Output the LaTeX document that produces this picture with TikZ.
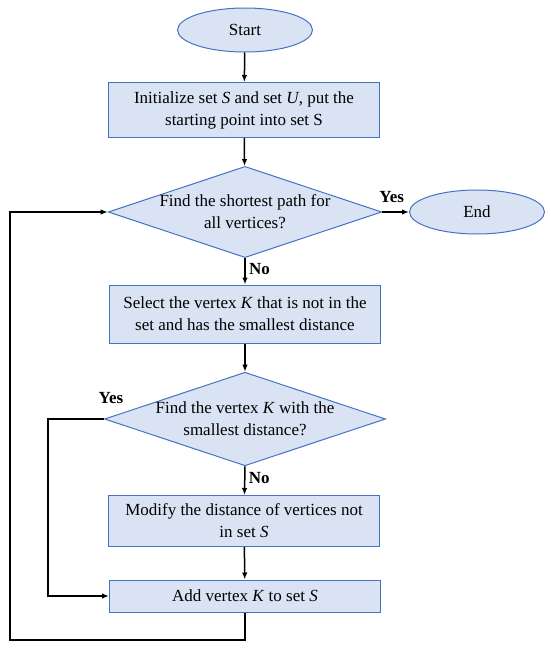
\documentclass[tikz,border=0pt]{standalone}
\usepackage{fontspec}
\setmainfont{Liberation Serif}
\usetikzlibrary{shapes.geometric,arrows.meta}

\definecolor{boxfill}{RGB}{218,227,243}
\definecolor{boxline}{RGB}{68,114,196}

\begin{document}
\begin{tikzpicture}[x=1pt,y=-1pt,
  every node/.style={font=\fontsize{17}{22}\selectfont},
  term/.style={ellipse,draw=boxline,fill=boxfill,line width=1pt,minimum width=135pt,minimum height=44pt,inner sep=0pt},
  proc/.style={rectangle,draw=boxline,fill=boxfill,line width=1pt,minimum width=271pt,align=center,inner sep=2pt},
  test/.style={diamond,draw=boxline,fill=boxfill,line width=1pt,align=center,inner sep=0pt,shape aspect=3},
  lbl/.style={font=\fontsize{17}{20}\selectfont\bfseries},
  arr/.style={line width=1.5pt,-{Latex[length=7pt,width=5.5pt]}}]
\useasboundingbox (0,0) rectangle (550,650);
\node[term] (start) at (245,30) {Start};
\node[proc,minimum height=55pt] (init) at (244,110) {Initialize set \textit{S} and set \textit{U}, put the\\starting point into set S};
\node[test,minimum width=267pt,minimum height=90pt] (done) at (245,212) {Find the shortest path for\\all vertices?};
\node[term] (end) at (477,212) {End};
\node[proc,minimum height=58pt] (select) at (245,314) {Select the vertex \textit{K} that is not in the\\set and has the smallest distance};
\node[test,minimum width=278pt,minimum height=88pt] (find) at (245,419) {Find the vertex \textit{K} with the\\smallest distance?};
\node[proc,minimum height=51pt] (modify) at (244,521) {Modify the distance of vertices not\\in set \textit{S}};
\node[proc,minimum height=32pt] (add) at (245,596) {Add vertex \textit{K} to set \textit{S}};
\node[lbl] (yes2) at (111,398) {Yes};
\draw[arr] (start) -- (init);
\draw[arr] (init) -- (done);
\draw[arr] (done.east) -- node[lbl,above=5pt,pos=0.35] {Yes} (end);
\draw[arr] (done.south) -- node[lbl,right,pos=0.4] {No} (select);
\draw[arr] (select) -- (find);
\draw[arr] (find.south) -- node[lbl,right,pos=0.4] {No} (modify);
\draw[arr] (modify) -- (add);
\draw[arr] (find.west) -- ++(-56,0) |- (add.west);
\draw[arr] (add.south) |- (10,640) |- (done.west);
\end{tikzpicture}
\end{document}
